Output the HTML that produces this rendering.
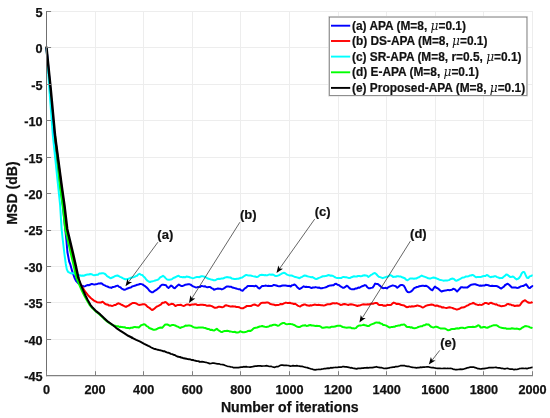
<!DOCTYPE html>
<html><head><meta charset="utf-8"><title>MSD learning curves</title>
<style>html,body{margin:0;padding:0;background:#fff}body{width:550px;height:418px;overflow:hidden;position:relative}</style></head>
<body>
<svg width="550" height="418" viewBox="0 0 550 418" style="position:absolute;left:0;top:0">
<rect width="550" height="418" fill="#fff"/>
<path d="M46.50 11.30V375.80M95.50 11.30V375.80M143.50 11.30V375.80M192.50 11.30V375.80M240.50 11.30V375.80M289.50 11.30V375.80M338.50 11.30V375.80M386.50 11.30V375.80M435.50 11.30V375.80M483.50 11.30V375.80M532.50 11.30V375.80M46.50 375.50H533.00M46.50 339.50H533.00M46.50 302.50H533.00M46.50 266.50H533.00M46.50 230.50H533.00M46.50 193.50H533.00M46.50 157.50H533.00M46.50 120.50H533.00M46.50 84.50H533.00M46.50 47.50H533.00M46.50 11.50H533.00" stroke="#ededed" stroke-width="1" fill="none"/>
<clipPath id="cp"><rect x="44.5" y="11.3" width="489.0" height="364.5"/></clipPath>
<g clip-path="url(#cp)" fill="none" stroke-linejoin="round" stroke-linecap="butt">
<path d="M46.5 47.6L50.4 90.0L54.4 137.0L60.2 186.0L62.8 205.0L65.2 229.0L66.4 240.0L67.4 252.0L69.2 261.6L70.2 264.0L72.2 271.2L74.4 277.5L76.0 280.8L78.5 283.5L82.0 285.6L84.0 286.5L85.3 286.1L86.6 285.4L87.9 285.0L89.2 285.2L90.5 284.5L91.8 283.9L93.1 284.3L94.4 284.6L95.7 284.3L97.0 284.0L98.3 283.6L99.6 283.4L100.9 283.3L102.2 283.8L103.5 284.9L104.8 285.4L106.1 286.1L107.4 286.5L108.7 287.2L110.0 287.4L111.3 287.9L112.6 287.1L113.9 286.9L115.2 286.5L116.5 285.9L117.8 285.6L119.1 286.9L120.4 287.3L121.7 288.6L123.0 289.2L124.3 289.7L125.6 289.5L126.9 288.7L128.2 288.2L129.5 287.8L130.8 287.6L132.1 286.5L133.4 286.1L134.7 285.7L136.0 285.3L137.3 284.8L138.6 284.5L139.9 284.0L141.2 284.1L142.5 284.4L143.8 285.4L145.1 286.2L146.4 287.3L147.7 288.5L149.0 290.2L150.3 291.4L151.6 292.3L152.9 292.2L154.2 291.2L155.5 290.4L156.8 289.6L158.1 288.4L159.4 287.5L160.7 285.7L162.0 284.7L163.3 284.7L164.6 284.9L165.9 285.2L167.2 287.0L168.5 287.9L169.8 286.8L171.1 285.5L172.4 286.3L173.7 287.8L175.0 288.2L176.3 286.7L177.6 285.6L178.9 284.5L180.2 285.4L181.5 286.1L182.8 285.9L184.1 285.3L185.4 284.7L186.7 284.6L188.0 284.3L189.3 284.3L190.6 284.6L191.9 285.6L193.2 286.3L194.5 286.9L195.8 287.4L197.1 287.3L198.4 287.0L199.7 287.1L201.0 286.1L202.3 286.1L203.6 286.4L204.9 286.2L206.2 287.0L207.5 287.2L208.8 287.0L210.1 286.9L211.4 288.1L212.7 288.6L214.0 289.7L215.3 289.3L216.6 288.9L217.9 288.5L219.2 288.7L220.5 288.8L221.8 289.4L223.1 288.9L224.4 288.2L225.7 287.1L227.0 286.4L228.3 286.4L229.6 286.7L230.9 286.7L232.2 287.5L233.5 287.8L234.8 288.1L236.1 288.5L237.4 288.9L238.7 289.2L240.0 289.3L241.3 290.4L242.6 290.8L243.9 289.4L245.2 288.1L246.5 287.3L247.8 285.9L249.1 286.1L250.4 286.1L251.7 286.1L253.0 286.1L254.3 286.3L255.6 285.7L256.9 286.4L258.2 287.9L259.5 288.6L260.8 287.2L262.1 286.1L263.4 285.9L264.7 285.8L266.0 285.6L267.3 285.9L268.6 285.8L269.9 286.1L271.2 285.9L272.5 285.8L273.8 284.9L275.1 285.2L276.4 285.5L277.7 286.0L279.0 286.3L280.3 286.2L281.6 285.8L282.9 285.5L284.2 285.4L285.5 285.6L286.8 285.8L288.1 286.0L289.4 285.8L290.7 286.5L292.0 285.3L293.3 285.0L294.6 284.5L295.9 285.5L297.2 287.2L298.5 288.3L299.8 289.0L301.1 288.2L302.4 287.2L303.7 286.3L305.0 286.9L306.3 286.7L307.6 287.1L308.9 287.0L310.2 287.4L311.5 288.1L312.8 287.5L314.1 287.6L315.4 287.1L316.7 287.4L318.0 287.8L319.3 287.6L320.6 288.3L321.9 288.3L323.2 287.9L324.5 287.6L325.8 287.2L327.1 286.7L328.4 286.0L329.7 285.6L331.0 285.5L332.3 285.3L333.6 285.2L334.9 284.0L336.2 283.8L337.5 284.8L338.8 284.9L340.1 286.1L341.4 286.8L342.7 287.7L344.0 287.8L345.3 286.9L346.6 285.7L347.9 286.4L349.2 287.9L350.5 288.9L351.8 289.2L353.1 289.3L354.4 289.2L355.7 288.4L357.0 288.4L358.3 287.6L359.6 287.7L360.9 286.8L362.2 286.2L363.5 285.8L364.8 285.1L366.1 285.5L367.4 287.3L368.7 288.3L370.0 288.2L371.3 287.9L372.6 287.6L373.9 285.8L375.2 283.6L376.5 283.9L377.8 283.9L379.1 285.1L380.4 286.1L381.7 287.5L383.0 288.2L384.3 288.1L385.6 287.8L386.9 288.4L388.2 287.3L389.5 286.7L390.8 286.1L392.1 285.6L393.4 285.6L394.7 285.9L396.0 286.5L397.3 287.8L398.6 286.7L399.9 285.5L401.2 284.9L402.5 285.1L403.8 285.7L405.1 287.8L406.4 290.6L407.7 292.0L409.0 292.3L410.3 291.9L411.6 291.1L412.9 289.7L414.2 288.2L415.5 287.6L416.8 287.0L418.1 286.7L419.4 286.3L420.7 286.1L422.0 285.8L423.3 285.8L424.6 285.9L425.9 285.7L427.2 286.3L428.5 287.3L429.8 288.5L431.1 289.7L432.4 290.3L433.7 288.2L435.0 286.5L436.3 287.8L437.6 288.2L438.9 289.3L440.2 290.5L441.5 291.6L442.8 291.0L444.1 290.7L445.4 290.4L446.7 290.2L448.0 289.9L449.3 290.2L450.6 290.0L451.9 289.8L453.2 288.7L454.5 289.1L455.8 290.3L457.1 291.5L458.4 290.1L459.7 288.7L461.0 287.3L462.3 287.2L463.6 287.6L464.9 287.6L466.2 287.5L467.5 287.4L468.8 286.4L470.1 285.4L471.4 284.7L472.7 284.4L474.0 284.3L475.3 284.3L476.6 284.7L477.9 285.1L479.2 285.7L480.5 285.6L481.8 285.8L483.1 285.4L484.4 285.6L485.7 284.8L487.0 284.9L488.3 285.3L489.6 285.8L490.9 286.0L492.2 285.7L493.5 285.9L494.8 286.1L496.1 286.1L497.4 286.3L498.7 287.0L500.0 288.0L501.3 288.6L502.6 287.5L503.9 286.6L505.2 285.0L506.5 284.3L507.8 283.8L509.1 284.7L510.4 286.0L511.7 287.4L513.0 287.5L514.3 287.4L515.6 287.5L516.9 287.9L518.2 287.8L519.5 287.3L520.8 286.4L522.1 286.1L523.4 285.9L524.7 285.1L526.0 284.2L527.3 285.9L528.6 287.8L529.9 288.1L531.2 286.8L532.5 286.0L532.5 286.4" stroke="#0000ff" stroke-width="2.0"/>
<path d="M55.0 137.0L61.4 186.0L64.0 205.0L66.6 229.0L69.0 240.0L71.8 252.5L74.7 264.0L77.8 277.5L80.4 284.4L83.2 288.6L85.6 292.2L88.0 295.2L91.0 298.2L94.0 300.6L97.0 302.2L100.0 302.5L101.3 302.4L102.6 301.7L103.9 302.7L105.2 303.9L106.5 304.5L107.8 304.6L109.1 305.6L110.4 305.5L111.7 305.9L113.0 305.7L114.3 305.1L115.6 305.1L116.9 304.0L118.2 303.3L119.5 303.6L120.8 304.4L122.1 305.0L123.4 305.7L124.7 306.3L126.0 306.9L127.3 306.1L128.6 305.6L129.9 304.6L131.2 303.8L132.5 303.0L133.8 303.0L135.1 303.1L136.4 303.5L137.7 304.3L139.0 304.9L140.3 304.7L141.6 304.5L142.9 304.2L144.2 304.2L145.5 304.6L146.8 306.0L148.1 307.2L149.4 307.8L150.7 309.0L152.0 310.0L153.3 309.5L154.6 308.4L155.9 307.3L157.2 306.4L158.5 305.8L159.8 305.1L161.1 304.4L162.4 302.7L163.7 302.8L165.0 302.0L166.3 302.4L167.6 303.9L168.9 304.9L170.2 304.4L171.5 303.8L172.8 303.9L174.1 304.8L175.4 306.1L176.7 305.4L178.0 304.9L179.3 304.9L180.6 304.7L181.9 305.4L183.2 305.9L184.5 305.8L185.8 304.9L187.1 304.4L188.4 304.4L189.7 305.3L191.0 304.8L192.3 304.6L193.6 304.5L194.9 304.2L196.2 304.3L197.5 305.1L198.8 305.1L200.1 304.7L201.4 304.8L202.7 304.7L204.0 305.0L205.3 305.1L206.6 305.7L207.9 305.8L209.2 305.5L210.5 305.8L211.8 306.1L213.1 306.9L214.4 307.7L215.7 307.7L217.0 307.5L218.3 306.8L219.6 306.7L220.9 307.0L222.2 307.3L223.5 306.9L224.8 305.7L226.1 305.2L227.4 305.6L228.7 306.0L230.0 306.4L231.3 306.5L232.6 306.3L233.9 306.4L235.2 306.5L236.5 307.1L237.8 307.0L239.1 307.2L240.4 308.0L241.7 308.2L243.0 308.3L244.3 307.5L245.6 306.9L246.9 305.9L248.2 306.0L249.5 306.0L250.8 306.0L252.1 305.3L253.4 304.7L254.7 304.5L256.0 305.1L257.3 305.7L258.6 305.7L259.9 304.2L261.2 302.9L262.5 302.8L263.8 302.7L265.1 302.7L266.4 302.6L267.7 302.5L269.0 302.9L270.3 304.1L271.6 304.2L272.9 304.6L274.2 304.8L275.5 305.2L276.8 305.0L278.1 305.0L279.4 304.6L280.7 304.0L282.0 304.2L283.3 303.7L284.6 303.1L285.9 302.6L287.2 302.9L288.5 302.9L289.8 302.7L291.1 303.2L292.4 303.4L293.7 304.0L295.0 303.7L296.3 304.5L297.6 305.6L298.9 306.1L300.2 306.5L301.5 305.5L302.8 305.0L304.1 304.5L305.4 304.5L306.7 305.3L308.0 305.5L309.3 305.7L310.6 305.2L311.9 305.4L313.2 305.0L314.5 304.6L315.8 304.7L317.1 305.1L318.4 304.7L319.7 304.9L321.0 305.3L322.3 305.3L323.6 305.6L324.9 305.2L326.2 304.7L327.5 304.3L328.8 304.2L330.1 304.3L331.4 303.8L332.7 303.3L334.0 303.2L335.3 303.4L336.6 303.1L337.9 303.6L339.2 304.1L340.5 304.9L341.8 304.8L343.1 304.3L344.4 304.0L345.7 304.3L347.0 304.6L348.3 305.0L349.6 304.4L350.9 304.2L352.2 304.4L353.5 304.8L354.8 305.1L356.1 305.5L357.4 306.0L358.7 305.5L360.0 305.4L361.3 304.9L362.6 304.4L363.9 304.3L365.2 304.6L366.5 304.4L367.8 304.3L369.1 304.5L370.4 304.0L371.7 303.5L373.0 303.8L374.3 303.2L375.6 303.1L376.9 303.0L378.2 304.3L379.5 305.1L380.8 305.1L382.1 305.0L383.4 305.7L384.7 305.6L386.0 305.7L387.3 304.8L388.6 305.1L389.9 305.1L391.2 304.7L392.5 303.4L393.8 302.6L395.1 303.1L396.4 303.9L397.7 303.7L399.0 304.0L400.3 304.5L401.6 305.1L402.9 305.2L404.2 305.4L405.5 306.5L406.8 307.2L408.1 307.1L409.4 306.4L410.7 306.7L412.0 306.3L413.3 306.4L414.6 306.2L415.9 306.1L417.2 305.4L418.5 305.8L419.8 306.1L421.1 306.7L422.4 307.5L423.7 307.2L425.0 306.3L426.3 305.6L427.6 305.3L428.9 305.1L430.2 304.8L431.5 304.6L432.8 304.7L434.1 305.3L435.4 305.9L436.7 305.5L438.0 305.8L439.3 306.5L440.6 306.5L441.9 307.4L443.2 307.2L444.5 307.6L445.8 307.9L447.1 307.9L448.4 307.5L449.7 307.3L451.0 307.6L452.3 307.9L453.6 308.5L454.9 308.9L456.2 309.4L457.5 309.4L458.8 309.0L460.1 308.4L461.4 307.6L462.7 307.5L464.0 307.3L465.3 306.7L466.6 305.8L467.9 305.4L469.2 304.5L470.5 303.9L471.8 303.6L473.1 302.8L474.4 303.5L475.7 304.3L477.0 304.6L478.3 305.1L479.6 304.6L480.9 304.9L482.2 304.7L483.5 304.0L484.8 302.9L486.1 303.0L487.4 303.4L488.7 304.1L490.0 303.0L491.3 302.8L492.6 303.5L493.9 303.9L495.2 304.4L496.5 304.3L497.8 305.2L499.1 305.4L500.4 306.0L501.7 306.3L503.0 305.9L504.3 305.8L505.6 305.4L506.9 304.2L508.2 303.9L509.5 304.5L510.8 304.5L512.1 305.3L513.4 305.3L514.7 306.0L516.0 305.7L517.3 305.6L518.6 305.8L519.9 305.3L521.2 303.4L522.5 301.7L523.8 300.9L525.1 300.2L526.4 301.3L527.7 302.3L529.0 302.8L530.3 302.7L531.6 302.6L532.5 301.9" stroke="#ff0000" stroke-width="2.0"/>
<path d="M46.5 47.6L49.4 90.0L52.9 136.0L57.8 183.0L60.1 205.0L61.6 229.0L62.8 240.0L64.3 253.0L65.8 264.0L66.8 269.4L68.0 271.8L71.0 273.4L72.0 273.3L73.3 273.2L74.6 273.8L75.9 274.1L77.2 275.0L78.5 275.3L79.8 275.2L81.1 275.7L82.4 275.5L83.7 275.7L85.0 275.2L86.3 274.8L87.6 274.6L88.9 274.6L90.2 274.0L91.5 274.2L92.8 274.9L94.1 275.3L95.4 275.1L96.7 274.7L98.0 274.7L99.3 273.6L100.6 273.5L101.9 273.2L103.2 273.3L104.5 273.6L105.8 274.6L107.1 276.1L108.4 276.9L109.7 277.7L111.0 278.2L112.3 277.5L113.6 277.0L114.9 276.1L116.2 275.7L117.5 275.5L118.8 276.2L120.1 276.9L121.4 277.4L122.7 278.2L124.0 278.8L125.3 279.2L126.6 279.2L127.9 279.1L129.2 278.4L130.5 278.0L131.8 277.5L133.1 277.3L134.4 276.9L135.7 276.1L137.0 275.8L138.3 274.4L139.6 273.8L140.9 274.7L142.2 274.9L143.5 276.4L144.8 277.5L146.1 279.4L147.4 280.7L148.7 281.5L150.0 282.1L151.3 281.4L152.6 281.2L153.9 280.9L155.2 280.5L156.5 280.1L157.8 279.8L159.1 278.7L160.4 277.1L161.7 276.7L163.0 275.7L164.3 276.7L165.6 278.1L166.9 279.4L168.2 279.8L169.5 279.7L170.8 279.6L172.1 279.1L173.4 278.0L174.7 277.5L176.0 276.8L177.3 276.2L178.6 275.7L179.9 276.7L181.2 276.9L182.5 277.3L183.8 277.1L185.1 277.3L186.4 276.5L187.7 276.7L189.0 277.0L190.3 277.5L191.6 277.9L192.9 278.2L194.2 277.9L195.5 277.4L196.8 277.0L198.1 277.0L199.4 277.2L200.7 276.5L202.0 276.1L203.3 276.4L204.6 276.8L205.9 277.4L207.2 278.3L208.5 278.7L209.8 279.1L211.1 279.5L212.4 279.8L213.7 280.2L215.0 280.3L216.3 279.7L217.6 278.9L218.9 278.7L220.2 278.9L221.5 278.5L222.8 278.6L224.1 278.0L225.4 277.4L226.7 277.1L228.0 277.2L229.3 277.5L230.6 277.6L231.9 278.6L233.2 278.8L234.5 279.1L235.8 279.0L237.1 278.7L238.4 278.7L239.7 278.2L241.0 277.8L242.3 277.6L243.6 276.5L244.9 275.6L246.2 274.9L247.5 275.3L248.8 275.4L250.1 275.4L251.4 275.7L252.7 276.1L254.0 276.4L255.3 276.5L256.6 277.1L257.9 276.7L259.2 275.7L260.5 274.9L261.8 274.8L263.1 274.9L264.4 275.3L265.7 275.1L267.0 275.4L268.3 274.9L269.6 274.4L270.9 274.8L272.2 274.5L273.5 274.7L274.8 275.7L276.1 276.1L277.4 275.8L278.7 275.4L280.0 274.6L281.3 273.9L282.6 273.1L283.9 272.8L285.2 273.2L286.5 274.3L287.8 274.9L289.1 275.4L290.4 275.5L291.7 275.5L293.0 276.1L294.3 276.7L295.6 277.0L296.9 277.4L298.2 277.8L299.5 278.2L300.8 277.4L302.1 276.8L303.4 276.0L304.7 275.5L306.0 275.8L307.3 276.3L308.6 276.6L309.9 276.9L311.2 277.2L312.5 277.1L313.8 277.9L315.1 278.7L316.4 279.1L317.7 278.5L319.0 277.9L320.3 277.4L321.6 276.8L322.9 276.3L324.2 276.2L325.5 276.1L326.8 275.8L328.1 275.0L329.4 275.3L330.7 275.8L332.0 275.6L333.3 276.2L334.6 277.0L335.9 277.6L337.2 278.0L338.5 278.1L339.8 278.1L341.1 278.1L342.4 277.2L343.7 276.9L345.0 277.2L346.3 277.3L347.6 277.6L348.9 278.1L350.2 277.9L351.5 277.2L352.8 276.7L354.1 276.3L355.4 276.6L356.7 276.6L358.0 276.0L359.3 276.1L360.6 276.3L361.9 276.0L363.2 275.5L364.5 275.3L365.8 275.5L367.1 275.7L368.4 276.9L369.7 276.0L371.0 274.9L372.3 274.3L373.6 273.4L374.9 273.0L376.2 274.0L377.5 275.5L378.8 276.7L380.1 277.1L381.4 277.6L382.7 278.2L384.0 277.6L385.3 277.3L386.6 276.7L387.9 276.6L389.2 275.7L390.5 275.1L391.8 275.9L393.1 276.9L394.4 276.7L395.7 276.7L397.0 276.2L398.3 276.2L399.6 276.6L400.9 276.6L402.2 277.3L403.5 277.8L404.8 278.3L406.1 279.7L407.4 280.3L408.7 279.5L410.0 278.5L411.3 278.6L412.6 278.5L413.9 278.7L415.2 278.5L416.5 278.4L417.8 277.6L419.1 277.2L420.4 276.3L421.7 275.6L423.0 276.2L424.3 276.6L425.6 277.1L426.9 277.7L428.2 278.3L429.5 278.4L430.8 278.4L432.1 277.9L433.4 277.5L434.7 277.7L436.0 278.2L437.3 278.8L438.6 279.3L439.9 279.9L441.2 280.1L442.5 280.4L443.8 280.7L445.1 280.4L446.4 280.5L447.7 280.4L449.0 280.1L450.3 279.2L451.6 278.7L452.9 278.6L454.2 279.2L455.5 280.5L456.8 280.7L458.1 280.0L459.4 279.3L460.7 278.7L462.0 277.8L463.3 277.6L464.6 277.3L465.9 276.4L467.2 276.4L468.5 276.3L469.8 275.5L471.1 275.5L472.4 274.9L473.7 275.5L475.0 276.6L476.3 277.3L477.6 276.9L478.9 277.0L480.2 277.1L481.5 276.8L482.8 276.3L484.1 276.1L485.4 276.0L486.7 275.0L488.0 275.5L489.3 276.6L490.6 277.2L491.9 276.8L493.2 276.7L494.5 276.3L495.8 276.2L497.1 277.1L498.4 277.5L499.7 278.2L501.0 277.9L502.3 278.1L503.6 276.8L504.9 275.9L506.2 274.5L507.5 274.7L508.8 275.9L510.1 276.9L511.4 276.9L512.7 276.5L514.0 277.1L515.3 278.5L516.6 279.4L517.9 278.9L519.2 277.9L520.5 276.0L521.8 273.2L523.1 271.9L524.4 272.3L525.7 275.2L527.0 277.7L528.3 278.1L529.6 276.4L530.9 276.0L532.2 275.5L532.5 275.8" stroke="#00ffff" stroke-width="2.0"/>
<path d="M55.2 137.0L60.0 186.0L62.6 205.0L65.2 229.0L67.7 240.0L70.6 252.5L73.3 264.0L76.3 277.5L79.1 284.4L81.7 290.4L84.4 295.8L87.0 300.6L89.5 304.8L92.0 307.8L95.7 311.4L99.3 314.2L103.3 318.1L107.3 321.7L111.4 324.5L113.8 325.6L116.2 326.0L118.0 326.2L119.3 326.9L120.6 326.8L121.9 327.1L123.2 327.3L124.5 327.3L125.8 327.8L127.1 327.9L128.4 328.0L129.7 328.4L131.0 327.7L132.3 327.7L133.6 327.2L134.9 326.9L136.2 327.3L137.5 327.3L138.8 327.5L140.1 326.3L141.4 325.1L142.7 324.8L144.0 324.2L145.3 324.6L146.6 326.1L147.9 326.6L149.2 328.0L150.5 328.5L151.8 329.0L153.1 329.7L154.4 329.8L155.7 329.5L157.0 329.0L158.3 328.2L159.6 327.8L160.9 327.6L162.2 327.8L163.5 326.3L164.8 324.8L166.1 324.5L167.4 324.5L168.7 325.2L170.0 325.9L171.3 325.3L172.6 324.9L173.9 325.1L175.2 325.5L176.5 326.2L177.8 326.6L179.1 327.4L180.4 328.0L181.7 327.2L183.0 326.9L184.3 326.3L185.6 325.5L186.9 325.7L188.2 325.6L189.5 325.6L190.8 325.7L192.1 326.4L193.4 327.1L194.7 327.6L196.0 327.7L197.3 327.7L198.6 327.5L199.9 327.6L201.2 327.6L202.5 327.4L203.8 327.8L205.1 327.9L206.4 328.5L207.7 329.0L209.0 329.1L210.3 329.9L211.6 329.7L212.9 330.2L214.2 330.5L215.5 329.6L216.8 328.7L218.1 330.0L219.4 330.8L220.7 331.8L222.0 332.1L223.3 331.4L224.6 331.0L225.9 331.0L227.2 330.8L228.5 330.9L229.8 331.6L231.1 331.6L232.4 331.9L233.7 331.9L235.0 331.8L236.3 332.5L237.6 332.4L238.9 332.2L240.2 331.2L241.5 331.8L242.8 332.2L244.1 332.2L245.4 332.1L246.7 331.6L248.0 331.0L249.3 330.7L250.6 330.9L251.9 330.1L253.2 328.8L254.5 327.9L255.8 327.7L257.1 327.5L258.4 327.0L259.7 326.5L261.0 326.3L262.3 326.0L263.6 326.6L264.9 326.8L266.2 326.9L267.5 326.7L268.8 326.5L270.1 325.6L271.4 325.7L272.7 325.0L274.0 324.7L275.3 324.7L276.6 325.2L277.9 325.8L279.2 325.4L280.5 324.1L281.8 323.5L283.1 322.9L284.4 323.1L285.7 324.0L287.0 324.2L288.3 324.1L289.6 323.9L290.9 324.1L292.2 324.2L293.5 324.8L294.8 325.2L296.1 326.2L297.4 326.8L298.7 327.0L300.0 326.9L301.3 326.2L302.6 325.6L303.9 325.4L305.2 325.2L306.5 326.0L307.8 325.8L309.1 325.3L310.4 325.0L311.7 325.5L313.0 325.6L314.3 325.7L315.6 325.9L316.9 325.8L318.2 326.1L319.5 326.1L320.8 326.7L322.1 327.7L323.4 327.8L324.7 327.6L326.0 327.2L327.3 327.2L328.6 327.4L329.9 327.5L331.2 326.8L332.5 326.8L333.8 326.7L335.1 326.6L336.4 326.0L337.7 325.8L339.0 325.7L340.3 325.7L341.6 326.5L342.9 327.0L344.2 327.3L345.5 327.6L346.8 327.7L348.1 327.6L349.4 327.5L350.7 327.6L352.0 328.3L353.3 328.3L354.6 328.4L355.9 328.1L357.2 326.6L358.5 325.7L359.8 325.4L361.1 325.4L362.4 325.1L363.7 324.7L365.0 325.3L366.3 325.5L367.6 326.1L368.9 326.0L370.2 324.9L371.5 324.4L372.8 323.9L374.1 323.5L375.4 322.7L376.7 322.4L378.0 322.7L379.3 322.6L380.6 323.6L381.9 323.8L383.2 324.9L384.5 325.1L385.8 325.4L387.1 326.1L388.4 326.9L389.7 327.6L391.0 327.1L392.3 327.1L393.6 326.7L394.9 326.7L396.2 325.9L397.5 325.8L398.8 325.4L400.1 325.4L401.4 324.7L402.7 324.7L404.0 324.4L405.3 325.3L406.6 326.7L407.9 327.0L409.2 326.9L410.5 327.5L411.8 327.3L413.1 328.0L414.4 328.2L415.7 328.0L417.0 327.6L418.3 327.0L419.6 326.6L420.9 326.2L422.2 326.3L423.5 325.3L424.8 325.3L426.1 324.3L427.4 324.4L428.7 324.5L430.0 325.9L431.3 326.9L432.6 327.3L433.9 327.4L435.2 326.8L436.5 326.7L437.8 327.2L439.1 327.9L440.4 328.4L441.7 328.6L443.0 328.5L444.3 328.6L445.6 328.8L446.9 329.7L448.2 330.3L449.5 330.1L450.8 329.3L452.1 329.0L453.4 329.1L454.7 329.0L456.0 328.4L457.3 328.3L458.6 328.6L459.9 328.0L461.2 327.7L462.5 327.7L463.8 328.0L465.1 328.2L466.4 327.6L467.7 327.2L469.0 326.9L470.3 326.9L471.6 326.9L472.9 326.7L474.2 326.9L475.5 326.8L476.8 326.3L478.1 325.2L479.4 325.6L480.7 327.6L482.0 327.6L483.3 327.0L484.6 327.0L485.9 327.5L487.2 327.8L488.5 327.3L489.8 326.5L491.1 326.2L492.4 325.6L493.7 325.3L495.0 325.2L496.3 325.2L497.6 325.9L498.9 326.8L500.2 327.4L501.5 327.7L502.8 328.1L504.1 328.3L505.4 328.2L506.7 328.8L508.0 328.8L509.3 328.8L510.6 328.7L511.9 328.3L513.2 328.5L514.5 328.8L515.8 328.8L517.1 328.6L518.4 329.0L519.7 329.4L521.0 328.7L522.3 327.6L523.6 327.0L524.9 326.2L526.2 326.1L527.5 326.4L528.8 326.7L530.1 327.5L531.4 327.7L532.5 328.1" stroke="#00ff00" stroke-width="2.0"/>
<path d="M46.5 47.6L50.8 90.0L55.2 137.0L61.7 186.0L64.4 205.0L67.2 229.0L69.8 240.0L72.8 252.5L75.4 264.0L78.3 277.5" stroke="#000" stroke-width="2.5" stroke-linecap="round"/>
<path d="M78.3 277.5L80.8 284.4L83.2 290.4L85.6 295.8L88.0 300.6L90.4 304.8L92.8 307.8L96.4 311.4L100.0 314.2L104.0 318.1L108.0 321.7L112.1 324.5L116.1 327.8L120.1 330.6L124.1 333.2L128.2 335.8L132.2 337.8" stroke="#000" stroke-width="2.1" stroke-linecap="round"/>
<path d="M132.2 337.8L136.2 339.8L140.2 341.6L144.2 343.8L148.3 345.9L150.0 346.7L151.3 347.5L152.6 348.2L153.9 348.7L155.2 349.0L156.5 349.4L157.8 349.7L159.1 350.1L160.4 350.3L161.7 350.7L163.0 351.2L164.3 351.2L165.6 351.8L166.9 352.4L168.2 352.7L169.5 353.2L170.8 353.9L172.1 354.1L173.4 354.7L174.7 355.0L176.0 355.8L177.3 356.5L178.6 356.8L179.9 357.0L181.2 357.5L182.5 357.8L183.8 358.3L185.1 358.5L186.4 358.7L187.7 359.1L189.0 359.2L190.3 359.4L191.6 360.0L192.9 360.0L194.2 360.4L195.5 360.7L196.8 361.1L198.1 361.1L199.4 361.7" stroke="#000" stroke-width="1.9" stroke-linecap="round"/>
<path d="M199.4 361.7L200.7 361.8L202.0 361.7L203.3 361.9L204.6 362.2L205.9 362.3L207.2 362.7L208.5 363.1L209.8 363.6L211.1 363.5L212.4 363.2L213.7 363.0L215.0 363.3L216.3 363.7L217.6 363.8L218.9 363.8L220.2 364.3L221.5 364.5L222.8 364.7L224.1 364.9L225.4 365.5L226.7 366.0L228.0 366.3L229.3 366.5L230.6 366.9L231.9 367.0L233.2 367.6L234.5 367.7L235.8 367.6L237.1 367.6L238.4 367.6L239.7 367.3L241.0 367.1L242.3 367.1L243.6 366.7L244.9 366.9L246.2 366.6L247.5 367.0L248.8 367.0L250.1 367.2L251.4 366.9L252.7 366.7L254.0 366.4L255.3 366.1L256.6 366.2L257.9 365.9L259.2 365.9L260.5 365.9L261.8 366.1L263.1 366.0L264.4 366.0L265.7 365.8L267.0 365.7L268.3 366.2L269.6 366.5L270.9 366.3L272.2 366.8L273.5 367.2L274.8 367.3L276.1 366.7L277.4 366.6L278.7 366.3L280.0 365.6L281.3 365.0L282.6 365.1L283.9 365.4L285.2 365.4L286.5 365.4L287.8 365.5L289.1 365.7L290.4 366.2L291.7 366.0L293.0 365.6L294.3 365.8L295.6 365.9L296.9 365.7L298.2 366.0L299.5 366.1L300.8 366.3L302.1 366.4L303.4 366.8L304.7 367.2L306.0 367.5L307.3 367.6L308.6 368.1L309.9 368.5L311.2 369.0L312.5 369.2L313.8 369.7L315.1 369.8L316.4 369.6L317.7 369.5L319.0 369.4L320.3 369.5L321.6 369.1L322.9 369.0L324.2 368.7L325.5 368.6L326.8 368.4L328.1 368.2L329.4 368.3L330.7 367.7L332.0 367.8L333.3 367.6L334.6 367.5L335.9 367.4L337.2 367.5L338.5 367.2L339.8 367.1L341.1 367.2L342.4 366.7L343.7 366.7L345.0 366.9L346.3 366.8L347.6 367.1L348.9 367.4L350.2 367.8L351.5 367.7L352.8 368.1L354.1 368.3L355.4 368.6L356.7 368.9L358.0 368.4L359.3 368.4L360.6 368.3L361.9 368.1L363.2 368.2L364.5 367.9L365.8 367.8L367.1 367.7L368.4 367.8L369.7 367.6L371.0 367.6L372.3 367.6L373.6 367.3L374.9 367.2L376.2 366.7L377.5 367.1L378.8 367.3L380.1 367.6L381.4 367.7L382.7 368.0L384.0 368.5L385.3 368.4L386.6 368.4L387.9 368.2L389.2 367.8L390.5 367.5L391.8 367.3L393.1 367.2L394.4 367.2L395.7 366.6L397.0 366.6L398.3 366.4L399.6 366.0L400.9 365.5L402.2 365.6L403.5 365.6L404.8 365.7L406.1 366.2L407.4 366.3L408.7 366.4L410.0 366.8L411.3 367.2L412.6 367.3L413.9 367.5L415.2 367.7L416.5 367.9L417.8 367.7L419.1 367.6L420.4 367.2L421.7 367.3L423.0 367.2L424.3 367.2L425.6 367.0L426.9 366.9L428.2 366.8L429.5 367.2L430.8 367.5L432.1 367.7L433.4 367.6L434.7 368.0L436.0 368.2L437.3 368.3L438.6 368.3L439.9 368.3L441.2 368.5L442.5 368.5L443.8 368.4L445.1 368.4L446.4 368.5L447.7 368.3L449.0 368.5L450.3 368.4L451.6 368.5L452.9 369.1L454.2 369.3L455.5 369.7L456.8 369.7L458.1 369.5L459.4 369.3L460.7 369.2L462.0 369.3L463.3 369.2L464.6 368.8L465.9 368.4L467.2 367.8L468.5 367.7L469.8 367.2L471.1 367.1L472.4 367.1L473.7 367.1L475.0 367.7L476.3 367.9L477.6 368.6L478.9 368.6L480.2 369.0L481.5 368.8L482.8 368.6L484.1 368.6L485.4 368.3L486.7 368.2L488.0 367.9L489.3 367.5L490.6 367.6L491.9 367.6L493.2 367.6L494.5 367.5L495.8 367.3L497.1 367.6L498.4 367.8L499.7 367.9L501.0 368.3L502.3 368.3L503.6 368.7L504.9 368.8L506.2 368.5L507.5 368.4L508.8 368.8L510.1 369.2L511.4 369.1L512.7 369.2L514.0 369.6L515.3 369.4L516.6 369.5L517.9 369.2L519.2 368.7L520.5 368.5L521.8 368.3L523.1 368.3L524.4 368.5L525.7 368.4L527.0 368.6L528.3 368.2L529.6 368.0L530.9 367.7L532.2 367.3L532.6 367.3" stroke="#000" stroke-width="1.7"/>
</g>
<path d="M46.50 11.00V376.2" stroke="#707070" stroke-width="1" fill="none"/>
<path d="M46.00 375.65H533.00" stroke="#808080" stroke-width="1.2" fill="none"/>
<path d="M46.50 375.80v-4.6M95.50 375.80v-4.6M143.50 375.80v-4.6M192.50 375.80v-4.6M240.50 375.80v-4.6M289.50 375.80v-4.6M338.50 375.80v-4.6M386.50 375.80v-4.6M435.50 375.80v-4.6M483.50 375.80v-4.6M532.50 375.80v-4.6M46.50 375.50h4.6M46.50 339.50h4.6M46.50 302.50h4.6M46.50 266.50h4.6M46.50 230.50h4.6M46.50 193.50h4.6M46.50 157.50h4.6M46.50 120.50h4.6M46.50 84.50h4.6M46.50 47.50h4.6M46.50 11.50h4.6" stroke="#808080" stroke-width="1" fill="none"/>
<g font-family="'Liberation Sans', sans-serif" font-weight="bold" fill="#111" stroke="#111" stroke-width="0.25" font-size="12.7">
<text x="46.5" y="393.8" text-anchor="middle">0</text>
<text x="95.1" y="393.8" text-anchor="middle">200</text>
<text x="143.7" y="393.8" text-anchor="middle">400</text>
<text x="192.3" y="393.8" text-anchor="middle">600</text>
<text x="240.9" y="393.8" text-anchor="middle">800</text>
<text x="289.5" y="393.8" text-anchor="middle">1000</text>
<text x="338.1" y="393.8" text-anchor="middle">1200</text>
<text x="386.7" y="393.8" text-anchor="middle">1400</text>
<text x="435.3" y="393.8" text-anchor="middle">1600</text>
<text x="483.9" y="393.8" text-anchor="middle">1800</text>
<text x="532.5" y="393.8" text-anchor="middle">2000</text>
<text x="42.6" y="381.2" text-anchor="end">-45</text>
<text x="42.6" y="344.8" text-anchor="end">-40</text>
<text x="42.6" y="308.3" text-anchor="end">-35</text>
<text x="42.6" y="271.8" text-anchor="end">-30</text>
<text x="42.6" y="235.4" text-anchor="end">-25</text>
<text x="42.6" y="199.0" text-anchor="end">-20</text>
<text x="42.6" y="162.5" text-anchor="end">-15</text>
<text x="42.6" y="126.1" text-anchor="end">-10</text>
<text x="42.6" y="89.6" text-anchor="end">-5</text>
<text x="42.6" y="53.1" text-anchor="end">0</text>
<text x="42.6" y="16.7" text-anchor="end">5</text>
</g>
<g font-family="'Liberation Sans', sans-serif" font-weight="bold" fill="#111" stroke="#111" stroke-width="0.25" font-size="14.1">
<text x="289.8" y="411.6" text-anchor="middle">Number of iterations</text>
<text transform="translate(17.4 193) rotate(-90)" text-anchor="middle">MSD (dB)</text>
</g>
<g font-family="'Liberation Sans', sans-serif" font-weight="bold" fill="#111" stroke="#111" stroke-width="0.2" font-size="13.0">
<text x="165.3" y="238.7" text-anchor="middle">(a)</text>
<text x="248.3" y="218.9" text-anchor="middle">(b)</text>
<text x="322.7" y="215.5" text-anchor="middle">(c)</text>
<text x="418.4" y="237.5" text-anchor="middle">(d)</text>
<text x="448.1" y="347.0" text-anchor="middle">(e)</text>
</g>
<path d="M157.9 242.2L128.7 281.9" stroke="#333" stroke-width="0.75" fill="none"/>
<path d="M125.5 286.2L127.4 278.7L128.7 281.9L132.1 282.1Z" fill="#000"/>
<path d="M239.9 222.2L191.9 298.3" stroke="#333" stroke-width="0.75" fill="none"/>
<path d="M189.0 302.9L190.4 295.3L191.9 298.3L195.3 298.4Z" fill="#000"/>
<path d="M314.7 219.1L279.6 268.6" stroke="#333" stroke-width="0.75" fill="none"/>
<path d="M276.5 273.0L278.3 265.4L279.6 268.6L283.0 268.8Z" fill="#000"/>
<path d="M410.4 241.1L362.3 317.9" stroke="#333" stroke-width="0.75" fill="none"/>
<path d="M359.4 322.5L360.8 314.9L362.3 317.9L365.7 317.9Z" fill="#000"/>
<path d="M439.7 350.4L432.1 360.2" stroke="#333" stroke-width="0.75" fill="none"/>
<path d="M428.8 364.5L430.9 357.0L432.1 360.2L435.5 360.6Z" fill="#000"/>
<rect x="329" y="16.8" width="198.20000000000005" height="78.9" fill="#fff" stroke="#dcdcdc" stroke-width="1.7"/>
<rect x="329.3" y="17.1" width="197.60000000000005" height="78.30000000000001" fill="#fff" stroke="#707070" stroke-width="0.75"/>
<g font-family="'Liberation Sans', sans-serif" font-weight="bold" fill="#111" stroke="#111" stroke-width="0.2" font-size="11.9">
<path d="M331 25.7H350.2" stroke="#0000ff" stroke-width="1.9"/>
<text x="352" y="29.8" xml:space="preserve">(a) APA (M=8, <tspan font-family="'DejaVu Serif', 'Liberation Serif', serif" font-style="italic" font-weight="normal" stroke="none" font-size="12.2">μ</tspan>=0.1)</text>
<path d="M331 41.0H350.2" stroke="#ff0000" stroke-width="1.9"/>
<text x="352" y="45.1" xml:space="preserve">(b) DS-APA (M=8, <tspan font-family="'DejaVu Serif', 'Liberation Serif', serif" font-style="italic" font-weight="normal" stroke="none" font-size="12.2">μ</tspan>=0.1)</text>
<path d="M331 56.6H350.2" stroke="#00ffff" stroke-width="1.9"/>
<text x="352" y="60.7" xml:space="preserve">(c) SR-APA (M=8, r=0.5, <tspan font-family="'DejaVu Serif', 'Liberation Serif', serif" font-style="italic" font-weight="normal" stroke="none" font-size="12.2">μ</tspan>=0.1)</text>
<path d="M331 72.3H350.2" stroke="#00ff00" stroke-width="1.9"/>
<text x="352" y="76.4" xml:space="preserve">(d) E-APA (M=8, <tspan font-family="'DejaVu Serif', 'Liberation Serif', serif" font-style="italic" font-weight="normal" stroke="none" font-size="12.2">μ</tspan>=0.1)</text>
<path d="M331 87.9H350.2" stroke="#000000" stroke-width="1.9"/>
<text x="352" y="92.0" xml:space="preserve">(e) Proposed-APA (M=8, <tspan font-family="'DejaVu Serif', 'Liberation Serif', serif" font-style="italic" font-weight="normal" stroke="none" font-size="12.2">μ</tspan>=0.1)</text>
</g>
</svg>
</body></html>
